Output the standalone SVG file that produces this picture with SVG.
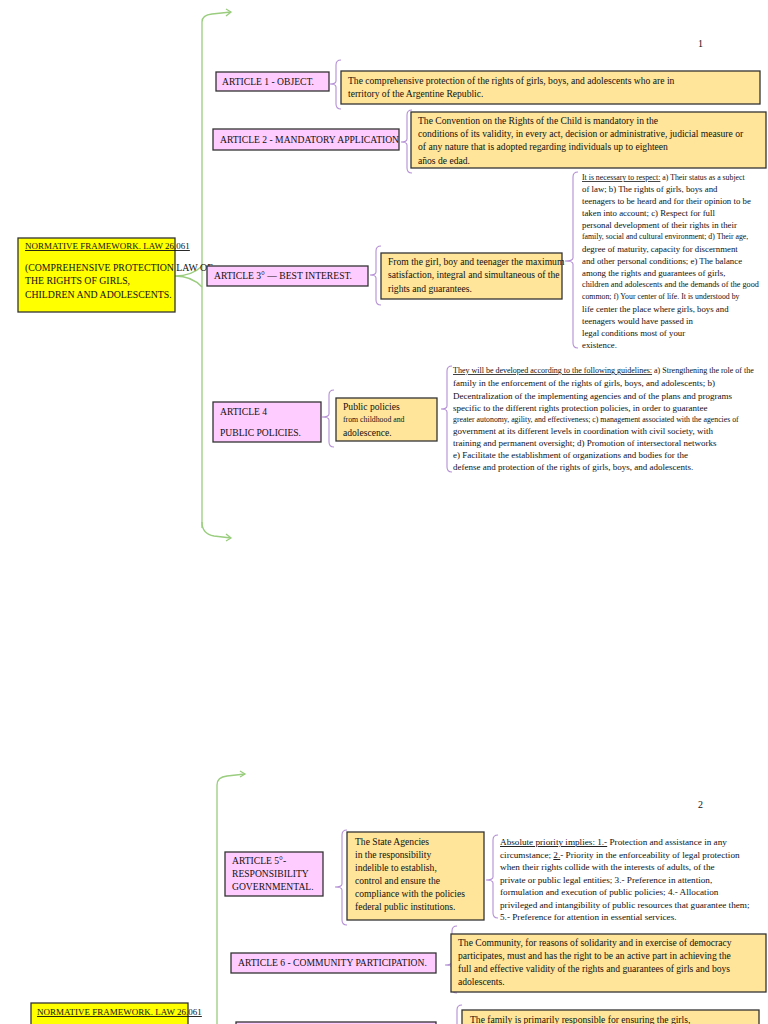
<svg xmlns="http://www.w3.org/2000/svg" width="768" height="1024" viewBox="0 0 768 1024">
<style>
text{font-family:"Liberation Serif","Times New Roman",serif;fill:#111;font-size:9.6px}
.pk{fill:#FFCCFF;stroke:#333;stroke-width:1.3}
.yl{fill:#FFE599;stroke:#333;stroke-width:1.3}
.main{fill:#FFFF00;stroke:#333;stroke-width:1.3}
.br{fill:none;stroke:#B48FD6;stroke-width:1.1}
.gr{fill:none;stroke:#9ACD7E;stroke-width:1.3}
.s{font-size:7.8px}
.m{font-size:8.8px}
.m9{font-size:9px}
.m92{font-size:9.2px}
.u{text-decoration:underline}
.hd{font-size:9px}
.pg{font-size:10px}
</style>
<rect width="768" height="1024" fill="#fff"/>
<g id="connectors">
  <path class="gr" d="M202,528 V22 Q202,15 212,14 L231,12"/>
  <path class="gr" d="M226,9 L231,12 L226,16"/>
  <path class="gr" d="M202,522 Q202,534 214,536 L231,538"/>
  <path class="gr" d="M226,534 L231,538 L226,541"/>
  <path class="gr" d="M175,276 Q192,276 202,266 M175,276 Q192,276 202,287"/>
  <path class="gr" d="M217,1024 V785 Q217,777 227,776 L245,774"/>
  <path class="gr" d="M240,771 L245,774 L240,777"/>
  <path class="br" d="M341,60 Q336,60 336,65 V81 Q336,84 330,84 Q336,84 336,87 V104 Q336,109 341,109"/>
  <path class="br" d="M412,110 Q407,110 407,115 V139 Q407,142 401,142 Q407,142 407,145 V168 Q407,173 412,173"/>
  <path class="br" d="M381,246 Q376,246 376,251 V272 Q376,275 370,275 Q376,275 376,278 V300 Q376,305 381,305"/>
  <path class="br" d="M578,172 Q573,172 573,177 V258 Q573,261 565,261 Q573,261 573,264 V343 Q573,348 578,348"/>
  <path class="br" d="M334,390 Q329,390 329,395 V414 Q329,417 322,417 Q329,417 329,420 V442 Q329,447 334,447"/>
  <path class="br" d="M452,366 Q447,366 447,371 V406 Q447,409 441,409 Q447,409 447,412 V467 Q447,472 452,472"/>
  <path class="br" d="M347,830 Q342,830 342,835 V884 Q342,887 335,887 Q342,887 342,890 V920 Q342,925 347,925"/>
  <path class="br" d="M498,835 Q493,835 493,840 V877 Q493,880 486,880 Q493,880 493,883 V913 Q493,918 498,918"/>
  <path class="br" d="M457,926 Q452,926 452,931 V962 Q452,965 445,965 Q452,965 452,968 V988 Q452,993 457,993"/>
  <path class="br" d="M462,1005 Q457,1005 457,1010 V1024"/>
</g>
<text class="pg" x="698" y="47">1</text>
<text class="pg" x="698" y="808">2</text>
<g id="main1">
  <rect class="main" x="18" y="238" width="157" height="74"/>
  <text x="25" y="249" class="u hd">NORMATIVE FRAMEWORK. LAW 26.061</text>
  <text x="25" y="271" style="font-size:9.8px">(COMPREHENSIVE PROTECTION LAW OF</text>
  <text x="25" y="284" style="font-size:9.8px">THE RIGHTS OF GIRLS,</text>
  <text x="25" y="298" style="font-size:9.8px">CHILDREN AND ADOLESCENTS.</text>
</g>
<g id="art1">
  <rect class="pk" x="216" y="72" width="113" height="19"/>
  <text x="222" y="85">ARTICLE 1 - OBJECT.</text>
</g>
<g id="art1-text">
  <rect class="yl" x="341" y="71" width="419" height="33"/>
  <text x="348" y="84">The comprehensive protection of the rights of girls, boys, and adolescents who are in</text>
  <text x="348" y="97">territory of the Argentine Republic.</text>
</g>
<g id="art2">
  <rect class="pk" x="213" y="129" width="186" height="21"/>
  <text x="220" y="143">ARTICLE 2 - MANDATORY APPLICATION</text>
</g>
<g id="art2-text">
  <rect class="yl" x="411" y="112" width="355" height="56"/>
  <text x="418" y="124">The Convention on the Rights of the Child is mandatory in the</text>
  <text x="418" y="137">conditions of its validity, in every act, decision or administrative, judicial measure or</text>
  <text x="418" y="150">of any nature that is adopted regarding individuals up to eighteen</text>
  <text x="418" y="164">años de edad.</text>
</g>
<g id="art3">
  <rect class="pk" x="207" y="266" width="161" height="20"/>
  <text x="214" y="279">ARTICLE 3° — BEST INTEREST.</text>
</g>
<g id="art3-text">
  <rect class="yl" x="381" y="253" width="181" height="46"/>
  <text x="388" y="265">From the girl, boy and teenager the maximum</text>
  <text x="388" y="278">satisfaction, integral and simultaneous of the</text>
  <text x="388" y="292">rights and guarantees.</text>
</g>
<g id="art3-detail">
  <text x="582" y="180" class="s"><tspan class="u">It is necessary to respect:</tspan> a) Their status as a subject</text>
  <text x="582" y="192" class="m">of law; b) The rights of girls, boys and</text>
  <text x="582" y="204" class="m">teenagers to be heard and for their opinion to be</text>
  <text x="582" y="216" class="m">taken into account; c) Respect for full</text>
  <text x="582" y="228" class="m">personal development of their rights in their</text>
  <text x="582" y="239" class="s">family, social and cultural environment; d) Their age,</text>
  <text x="582" y="252" class="m">degree of maturity, capacity for discernment</text>
  <text x="582" y="264" class="m">and other personal conditions; e) The balance</text>
  <text x="582" y="276" class="m">among the rights and guarantees of girls,</text>
  <text x="582" y="287" style="font-size:8.2px">children and adolescents and the demands of the good</text>
  <text x="582" y="299" class="s">common; f) Your center of life. It is understood by</text>
  <text x="582" y="312" class="m">life center the place where girls, boys and</text>
  <text x="582" y="324" class="m">teenagers would have passed in</text>
  <text x="582" y="336" class="m">legal conditions most of your</text>
  <text x="582" y="348" class="m">existence.</text>
</g>
<g id="art4">
  <rect class="pk" x="213" y="402" width="108" height="40"/>
  <text x="220" y="415">ARTICLE 4</text>
  <text x="220" y="436">PUBLIC POLICIES.</text>
</g>
<g id="art4-text">
  <rect class="yl" x="336" y="398" width="101" height="43"/>
  <text x="343" y="410">Public policies</text>
  <text x="343" y="422" class="s">from childhood and</text>
  <text x="343" y="436">adolescence.</text>
</g>
<g id="art4-detail">
  <text x="453" y="373" style="font-size:8px"><tspan class="u">They will be developed according to the following guidelines:</tspan> a) Strengthening the role of the</text>
  <text x="453" y="386" class="m9">family in the enforcement of the rights of girls, boys, and adolescents; b)</text>
  <text x="453" y="399" class="m9">Decentralization of the implementing agencies and of the plans and programs</text>
  <text x="453" y="411" class="m9">specific to the different rights protection policies, in order to guarantee</text>
  <text x="453" y="422" class="s">greater autonomy, agility, and effectiveness; c) management associated with the agencies of</text>
  <text x="453" y="434" class="m9">government at its different levels in coordination with civil society, with</text>
  <text x="453" y="446" class="m9">training and permanent oversight; d) Promotion of intersectoral networks</text>
  <text x="453" y="458" class="m9">e) Facilitate the establishment of organizations and bodies for the</text>
  <text x="453" y="470" class="m9">defense and protection of the rights of girls, boys, and adolescents.</text>
</g>
<g id="art5">
  <rect class="pk" x="225" y="852" width="98" height="44"/>
  <text x="232" y="864">ARTICLE 5°-</text>
  <text x="232" y="877">RESPONSIBILITY</text>
  <text x="232" y="890">GOVERNMENTAL.</text>
</g>
<g id="art5-text">
  <rect class="yl" x="347" y="832" width="137" height="88"/>
  <text x="355" y="845">The State Agencies</text>
  <text x="355" y="858">in the responsibility</text>
  <text x="355" y="871">indelible to establish,</text>
  <text x="355" y="884">control and ensure the</text>
  <text x="355" y="897">compliance with the policies</text>
  <text x="355" y="910">federal public institutions.</text>
</g>
<g id="art5-detail">
  <text x="500" y="845" class="m92"><tspan class="u">Absolute priority implies: 1.-</tspan> Protection and assistance in any</text>
  <text x="500" y="858" class="m92">circumstance; <tspan class="u">2.</tspan>- Priority in the enforceability of legal protection</text>
  <text x="500" y="870" class="m92">when their rights collide with the interests of adults, of the</text>
  <text x="500" y="883" class="m92">private or public legal entities; 3.- Preference in attention,</text>
  <text x="500" y="895" class="m92">formulation and execution of public policies; 4.- Allocation</text>
  <text x="500" y="908" class="m92">privileged and intangibility of public resources that guarantee them;</text>
  <text x="500" y="920" class="m92">5.- Preference for attention in essential services.</text>
</g>
<g id="art6">
  <rect class="pk" x="231" y="953" width="205" height="20"/>
  <text x="238" y="966">ARTICLE 6 - COMMUNITY PARTICIPATION.</text>
</g>
<g id="art6-text">
  <rect class="yl" x="451" y="934" width="315" height="58"/>
  <text x="458" y="946">The Community, for reasons of solidarity and in exercise of democracy</text>
  <text x="458" y="959">participates, must and has the right to be an active part in achieving the</text>
  <text x="458" y="972">full and effective validity of the rights and guarantees of girls and boys</text>
  <text x="458" y="985">adolescents.</text>
</g>
<g id="main2">
  <rect class="main" x="31" y="1003" width="157" height="30"/>
  <text x="37" y="1015" class="u hd">NORMATIVE FRAMEWORK. LAW 26.061</text>
</g>
<g id="art7">
  <rect class="pk" x="236" y="1022" width="200" height="20"/>
</g>
<g id="art7-text">
  <rect class="yl" x="462" y="1010" width="297" height="30"/>
  <text x="470" y="1023">The family is primarily responsible for ensuring the girls,</text>
</g>
</svg>
